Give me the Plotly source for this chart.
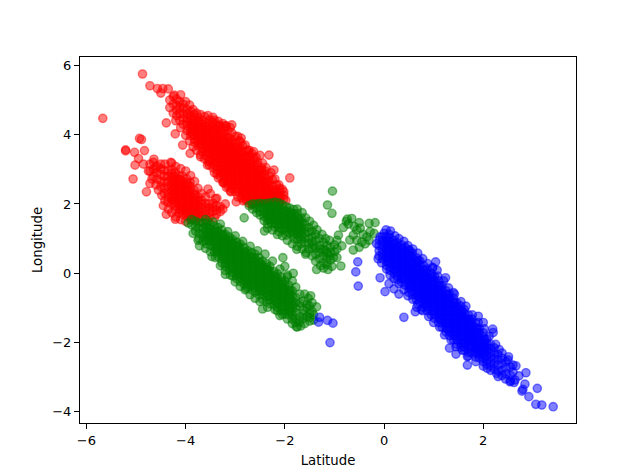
import plotly.graph_objects as go

# values, (latitude, [longitudes]) column by column
red_upper = [
 (-4.32,[5.0,4.78]),(-4.25,[5.1,4.88,4.62]),(-4.18,[5.02,4.85,4.7,4.55]),(-4.12,[4.95,4.78,4.62,4.41]),
 (-4.05,[4.88,4.75,4.6,4.47,4.3]),(-3.97,[4.72,4.6,4.48,4.37,4.25,4.12]),(-3.9,[4.68,4.55,4.43,4.3,4.2,4.08,3.97]),
 (-3.82,[4.58,4.46,4.33,4.22,4.1,3.98,3.87,3.78]),(-3.75,[4.5,4.38,4.27,4.14,4.03,3.92,3.8,3.68]),
 (-3.67,[4.42,4.3,4.18,4.07,3.95,3.83,3.72,3.6,3.5]),(-3.6,[4.35,4.22,4.1,4.0,3.88,3.76,3.63,3.52,3.4]),
 (-3.52,[4.42,4.3,4.16,4.05,3.93,3.8,3.7,3.57,3.46,3.33,3.25,3.12]),(-3.45,[4.36,4.22,4.1,3.97,3.85,3.74,3.62,3.5,3.38,3.27,3.15,3.04]),
 (-3.37,[4.28,4.14,4.03,3.9,3.78,3.67,3.55,3.43,3.32,3.2,3.08,2.98,2.86]),(-3.3,[4.26,4.12,3.98,3.85,3.73,3.6,3.48,3.37,3.25,3.13,3.02,2.9,2.78]),
 (-3.22,[4.18,4.02,3.9,3.78,3.66,3.54,3.42,3.3,3.18,3.06,2.95,2.83,2.7,2.6]),(-3.15,[4.12,3.92,3.8,3.68,3.57,3.45,3.33,3.22,3.1,2.98,2.86,2.74,2.62,2.52]),
 (-3.07,[4.05,3.85,3.73,3.62,3.5,3.38,3.26,3.14,3.02,2.9,2.78,2.66,2.54,2.44]),(-3.0,[3.95,3.75,3.63,3.52,3.4,3.28,3.16,3.04,2.92,2.8,2.68,2.56,2.44,2.35]),
 (-2.92,[3.82,3.62,3.5,3.38,3.27,3.15,3.03,2.91,2.8,2.68,2.56,2.45,2.33]),(-2.85,[3.68,3.52,3.42,3.3,3.18,3.06,2.95,2.83,2.71,2.6,2.48,2.36,2.25]),
 (-2.77,[3.52,3.38,3.27,3.16,3.04,2.92,2.8,2.69,2.57,2.45,2.34,2.22,2.12]),(-2.7,[3.4,3.28,3.15,3.03,2.92,2.8,2.68,2.56,2.45,2.33,2.2,2.08]),
 (-2.62,[3.32,3.22,3.1,2.98,2.86,2.74,2.62,2.5,2.4,2.28,2.16,2.04]),(-2.55,[3.2,3.12,2.98,2.86,2.75,2.63,2.52,2.4,2.28,2.15,2.05]),
 (-2.47,[3.05,2.98,2.85,2.73,2.62,2.5,2.38,2.27,2.15,2.05]),(-2.4,[2.95,2.86,2.74,2.62,2.5,2.38,2.27,2.15,2.05]),
 (-2.32,[2.8,2.66,2.55,2.43,2.32,2.2,2.08]),(-2.25,[2.7,2.52,2.4,2.3,2.18,2.07]),(-2.17,[2.55,2.42,2.32,2.2,2.1]),
 (-2.1,[2.45,2.33,2.22,2.12]),(-2.02,[2.35,2.25,2.15]),
]
red_lower = [
 (-4.72,[3.15,2.95]),(-4.65,[3.2,3.0,2.8]),(-4.58,[3.1,2.9,2.72]),(-4.5,[3.02,2.85,2.65,2.5]),
 (-4.43,[2.98,2.8,2.62,2.45,2.3]),(-4.36,[2.95,2.8,2.65,2.5,2.35,2.2,2.05]),
 (-4.28,[3.0,2.88,2.75,2.62,2.5,2.38,2.25,2.12,2.0]),(-4.21,[2.92,2.8,2.68,2.56,2.44,2.32,2.2,2.08,1.95,1.82]),
 (-4.13,[2.82,2.7,2.58,2.46,2.34,2.22,2.1,1.98,1.86,1.74]),(-4.06,[2.8,2.66,2.54,2.42,2.3,2.18,2.06,1.94,1.82,1.7]),
 (-3.98,[2.72,2.6,2.48,2.36,2.24,2.12,2.0,1.88,1.76,1.64]),(-3.91,[2.62,2.5,2.38,2.26,2.14,2.02,1.9,1.78,1.66,1.55]),
 (-3.83,[2.4,2.28,2.16,2.04,1.92,1.8,1.68,1.56]),(-3.75,[2.2,2.08,1.96,1.84,1.72,1.6]),
 (-3.68,[2.1,2.0,1.88,1.76,1.64]),(-3.6,[2.02,1.9,1.78,1.66]),(-3.52,[2.0,1.88,1.76,1.62]),
 (-3.45,[2.02,1.9,1.78]),(-3.38,[1.95,1.82,1.7]),(-3.3,[1.92,1.78]),
]
red_fill = [
 (-3.86,[4.4,4.27,4.14,4.01]),(-3.71,[4.35,4.21,4.09,3.97,3.84,3.72]),(-3.56,[4.25,4.13,4.0,3.88,3.75,3.63,3.5]),
 (-3.41,[4.15,4.03,3.91,3.79,3.66,3.54,3.42,3.3,3.2]),(-3.26,[4.05,3.93,3.81,3.69,3.57,3.45,3.33,3.21,3.09,2.97,2.9]),
 (-3.11,[3.9,3.78,3.66,3.54,3.42,3.3,3.18,3.06,2.94,2.82,2.7]),(-2.96,[3.65,3.53,3.41,3.29,3.17,3.05,2.93,2.81,2.69,2.57]),
 (-2.81,[3.35,3.23,3.11,2.99,2.87,2.75,2.63,2.51,2.39,2.3]),(-2.66,[3.15,3.03,2.91,2.79,2.67,2.55,2.43,2.31,2.19]),
 (-2.51,[2.95,2.83,2.71,2.59,2.47,2.35,2.23,2.12]),(-2.36,[2.65,2.53,2.41,2.29,2.17]),(-2.21,[2.35,2.23,2.12]),
 (-4.25,[2.8,2.67,2.54,2.41,2.28,2.15,2.05]),(-4.1,[2.7,2.57,2.44,2.31,2.18,2.05,1.92,1.8]),
 (-3.95,[2.55,2.42,2.29,2.16,2.03,1.9,1.77,1.7]),(-3.8,[2.25,2.12,1.99,1.86,1.73,1.65]),
]
red_edge = [
 (-4.1,[5.15,4.2]),(-4.0,[4.95,3.98]),(-3.92,[4.85,3.82]),(-3.85,[4.72,3.65]),(-3.78,[4.62,3.55]),(-3.7,[4.58,3.42]),
 (-3.62,[4.52,3.3]),(-3.55,[4.55,3.22]),(-3.42,[4.42,2.9]),(-3.34,[4.38,2.75]),(-3.25,[4.32,2.62]),(-3.18,[4.25,2.48]),
 (-3.1,[4.2,2.38]),(-2.95,[3.95,2.2]),(-2.88,[3.9,2.18]),(-2.8,[3.7,2.12]),(-2.72,[3.55,2.02]),(-2.66,[3.45,1.98]),
 (-2.58,[3.35]),(-2.45,[3.18]),(-2.38,[3.05]),(-2.28,[2.9]),(-2.2,[2.72]),(-2.12,[2.55,2.02]),(-2.05,[2.42]),(-1.98,[2.1]),
 (-4.2,[4.4,1.62,3.08]),(-4.75,[2.95]),(-4.68,[2.72]),(-4.6,[2.55]),(-4.55,[2.4]),(-4.48,[2.25]),(-4.42,[2.1,3.15]),
 (-4.35,[1.85]),(-4.28,[1.75,3.18]),(-4.1,[1.55,3.02]),(-4.0,[1.5,2.95]),(-3.9,[2.82]),(-3.82,[2.65]),(-3.75,[2.45]),
 (-3.68,[2.3]),(-3.6,[2.2]),(-3.5,[2.3]),(-3.4,[2.15]),(-3.25,[1.85]),(-3.2,[2.0]),(-3.7,[1.5]),(-3.55,[1.52]),(-3.42,[1.6]),
]
red_loose_lat = [-4.87,-4.72,-5.67,-4.57,-4.46,-4.35,-4.23,-4.39,-4.21,-4.93,-4.89,-5.21,-5.21,-5.03,-4.83,-4.95,-5.02,-4.64,-5.06,-4.79,-4.72,-4.06,-3.91,-3.7,-3.56,-2.32,-2.22,-3.24,-3.55,-3.37,-2.98,-2.84,-3.09,-4.45,-4.39,-4.21,-3.45,-3.07,-2.89,-2.63,-1.9,-4.5,-4.6,-4.3,-4.85,-4.5,-3.2,-3.33,-2.75,-2.5]
red_loose_lon = [5.75,5.41,4.47,5.33,5.33,5.32,5.14,4.34,4.02,3.89,3.86,3.56,3.53,3.49,3.54,3.31,3.12,3.29,2.72,2.35,2.59,3.7,3.46,3.36,3.12,3.41,2.98,2.64,2.43,2.16,2.06,2.09,2.35,1.95,1.7,1.56,4.5,4.28,3.78,3.51,2.75,5.2,3.05,3.2,3.15,3.15,4.25,4.25,3.55,3.4]

green_lower = [
 (-3.88,[1.55,1.4]),(-3.8,[1.5,1.36,1.22]),(-3.73,[1.45,1.3,1.15,1.0]),(-3.65,[1.45,1.3,1.18,1.05,0.92]),
 (-3.58,[1.45,1.32,1.2,1.08,0.96,0.85]),(-3.5,[1.4,1.28,1.16,1.04,0.92,0.8]),(-3.42,[1.35,1.22,1.1,0.98,0.86,0.74,0.62]),
 (-3.35,[1.32,1.2,1.08,0.96,0.84,0.72,0.6,0.48]),(-3.27,[1.25,1.13,1.01,0.9,0.78,0.66,0.54,0.42,0.3]),
 (-3.2,[1.12,1.0,0.88,0.76,0.64,0.52,0.4,0.28,0.2]),(-3.12,[1.05,0.93,0.81,0.69,0.57,0.45,0.33,0.21,0.1]),
 (-3.05,[0.98,0.86,0.74,0.62,0.5,0.38,0.26,0.14,0.02,-0.08]),(-2.97,[0.9,0.78,0.66,0.54,0.42,0.3,0.18,0.06,-0.06,-0.15]),
 (-2.9,[0.84,0.72,0.6,0.48,0.36,0.24,0.12,0.0,-0.12,-0.24]),(-2.82,[0.74,0.62,0.5,0.38,0.26,0.14,0.02,-0.1,-0.22,-0.32]),
 (-2.75,[0.65,0.53,0.41,0.29,0.17,0.05,-0.07,-0.19,-0.31,-0.4]),(-2.67,[0.6,0.48,0.36,0.24,0.12,0.0,-0.12,-0.24,-0.36,-0.48]),
 (-2.6,[0.55,0.43,0.31,0.19,0.07,-0.05,-0.17,-0.29,-0.41,-0.55]),(-2.52,[0.45,0.33,0.21,0.09,-0.03,-0.15,-0.27,-0.39,-0.51,-0.63]),
 (-2.45,[0.35,0.23,0.11,-0.01,-0.13,-0.25,-0.37,-0.49,-0.61,-0.75]),(-2.37,[0.28,0.16,0.04,-0.08,-0.2,-0.32,-0.44,-0.56,-0.68,-0.82]),
 (-2.3,[0.2,0.08,-0.04,-0.16,-0.28,-0.4,-0.52,-0.64,-0.76,-0.88]),(-2.22,[0.05,-0.07,-0.19,-0.31,-0.43,-0.55,-0.67,-0.79,-0.91]),
 (-2.15,[-0.02,-0.14,-0.26,-0.38,-0.5,-0.62,-0.74,-0.86,-0.98,-1.08]),(-2.07,[-0.12,-0.24,-0.36,-0.48,-0.6,-0.72,-0.84,-0.96,-1.08]),
 (-2.0,[-0.22,-0.34,-0.46,-0.58,-0.7,-0.82,-0.94,-1.06,-1.18]),(-1.92,[-0.35,-0.47,-0.59,-0.71,-0.83,-0.95,-1.07,-1.2]),
 (-1.85,[-0.5,-0.65,-0.8,-0.92,-1.05,-1.2,-1.32]),(-1.78,[-0.7,-0.85,-1.0,-1.15,-1.3,-1.42]),(-1.7,[-0.85,-0.95,-1.25,-1.4]),
 (-1.62,[-1.05,-1.18,-1.3]),(-1.5,[-1.15,-1.28,-1.38]),(-1.42,[-1.2,-1.35]),
]
green_upper = [
 (-2.72,[1.95]),(-2.65,[2.0,1.85]),(-2.57,[2.0,1.88,1.75]),(-2.5,[2.02,1.9,1.78,1.68]),(-2.42,[2.0,1.88,1.76,1.64,1.52]),
 (-2.35,[2.02,1.9,1.78,1.66,1.54,1.42]),(-2.27,[2.03,1.91,1.79,1.67,1.55,1.43]),(-2.2,[2.05,1.93,1.81,1.69,1.57,1.45,1.33]),
 (-2.12,[2.03,1.91,1.79,1.67,1.55,1.43,1.31,1.2]),(-2.05,[1.98,1.86,1.74,1.62,1.5,1.38,1.26]),(-1.97,[1.92,1.8,1.68,1.56,1.44,1.32,1.2,1.1]),
 (-1.9,[1.88,1.76,1.64,1.52,1.4,1.28,1.16]),(-1.82,[1.84,1.72,1.6,1.48,1.36,1.24,1.12,1.0]),(-1.75,[1.72,1.6,1.48,1.36,1.24,1.12,0.98]),
 (-1.67,[1.6,1.48,1.36,1.24,1.12,0.98,0.85]),(-1.6,[1.42,1.28,1.15,1.02,0.88]),(-1.52,[1.32,1.18,1.0,0.85,0.7]),
 (-1.45,[1.22,1.05,0.9,0.75]),(-1.38,[1.12,0.95,0.72,0.55]),(-1.3,[1.0,0.8,0.6,0.42]),(-1.22,[0.88,0.68,0.5,0.3]),
 (-1.15,[0.8,0.58,0.42]),(-1.08,[0.75,0.6,0.38]),(-1.0,[0.82,0.62]),
]
green_fill = [
 (-3.54,[1.3,1.17,1.05,0.95]),(-3.39,[1.2,1.07,0.95,0.82,0.7]),(-3.24,[1.1,0.97,0.85,0.72,0.6,0.47]),
 (-3.09,[0.95,0.83,0.71,0.59,0.47,0.35,0.2]),(-2.94,[0.8,0.68,0.56,0.44,0.32,0.2,0.08,0.0]),(-2.79,[0.6,0.48,0.36,0.24,0.12,0.0,-0.12,-0.2]),
 (-2.64,[0.45,0.33,0.21,0.09,-0.03,-0.15,-0.27,-0.35]),(-2.49,[0.3,0.18,0.06,-0.06,-0.18,-0.3,-0.42,-0.5]),
 (-2.34,[0.1,-0.02,-0.14,-0.26,-0.38,-0.5,-0.65]),(-2.19,[-0.1,-0.22,-0.34,-0.46,-0.58,-0.7,-0.8]),
 (-2.04,[-0.3,-0.42,-0.54,-0.66,-0.78,-0.95]),(-1.89,[-0.5,-0.62,-0.74,-0.86,-1.0,-1.1]),
 (-2.31,[1.9,1.78,1.66,1.55]),(-2.16,[1.9,1.78,1.66,1.54,1.4]),(-2.01,[1.8,1.68,1.56,1.44,1.3]),
 (-1.86,[1.7,1.58,1.46,1.34,1.2]),(-1.71,[1.55,1.43,1.31,1.19,1.05]),
]
green_edge = [
 (-3.95,[1.45]),(-3.85,[1.15]),(-3.75,[0.95]),(-3.6,[1.55,0.72]),(-3.5,[0.62]),(-3.45,[1.48]),(-3.4,[0.45]),(-3.3,[1.42,0.22]),
 (-3.2,[0.08]),(-3.15,[1.2]),(-3.1,[-0.05]),(-3.0,[1.08,-0.25]),(-2.9,[-0.38]),(-2.85,[0.92]),(-2.8,[-0.48]),(-2.7,[0.78,-0.62]),
 (-2.6,[-0.72]),(-2.55,[0.65]),(-2.5,[-0.82]),(-2.4,[0.55]),(-2.35,[-0.98,1.3]),(-2.25,[0.35,1.25]),(-2.2,[-1.05]),(-2.1,[0.12,-1.22]),
 (-1.95,[-0.1,-1.32]),(-1.85,[-0.22,-1.45]),(-1.78,[-0.4]),(-1.75,[-1.55,1.85,0.78]),(-1.7,[-0.6]),(-1.62,[-0.8]),(-1.6,[-1.45]),
 (-1.55,[-1.0,-1.25]),(-1.65,[1.75,0.7]),(-1.58,[1.6,0.55]),(-1.5,[1.5]),(-1.42,[1.38,0.8]),(-1.35,[1.25]),(-1.25,[1.12]),
 (-1.18,[1.0,0.65]),(-1.1,[0.95,0.5]),(-2.15,[1.12]),(-2.05,[1.08]),(-1.95,[0.95]),(-1.85,[0.85]),(-1.45,[0.5]),(-1.38,[0.35]),
 (-1.28,[0.22,0.7]),(-1.22,[0.15]),(-1.15,[0.25]),(-1.05,[0.2]),(-0.95,[0.45,0.7,0.95]),(-1.02,[0.45]),
]
green_loose_lat = [-1.04,-1.14,-1.05,-2.82,-2.41,-3.72,-3.47,-3.2,-2.78,-2.45,-1.83,-2.04,-1.36,-1.13,-0.87,-1.57,-1.76,-1.77,-1.68,-1.36,-1.53,-2.05,-0.92,-0.85,-0.74,-0.65,-0.5,-0.3,-0.18,-0.82,-0.69,-0.62,-0.76,-0.72,-0.6,-0.55,-0.48,-0.42,-0.35,-0.28,-0.2,-0.55,-0.45,-0.38,-0.3,-0.62,-0.5,-2.35,-2.0,-1.95,-1.6,-1.45,-1.5,-1.45,-1.48,-1.55]
green_loose_lon = [2.37,1.97,1.73,1.6,1.22,0.79,0.48,-0.03,-0.44,-1.03,0.0,0.45,0.11,0.11,0.21,0.6,0.69,-1.54,-1.52,-0.97,-0.72,-1.19,1.1,0.79,1.56,1.58,1.46,1.44,1.46,1.32,0.96,0.67,1.5,1.42,1.35,1.25,1.3,1.12,1.05,1.2,1.15,0.95,0.9,0.85,0.95,1.1,0.75,0.1,0.2,-0.05,-0.6,-0.85,-0.95,-1.1,-0.65,-0.9]

blue_core = [
 (-0.1,[0.95,0.8,0.65,0.5]),(-0.03,[1.05,0.92,0.8,0.68,0.55,0.42]),(0.05,[1.05,0.93,0.81,0.69,0.57,0.45,0.33,0.22]),
 (0.12,[1.02,0.9,0.78,0.66,0.54,0.42,0.3,0.18,0.08]),(0.2,[0.95,0.83,0.71,0.59,0.47,0.35,0.23,0.11,0.0]),
 (0.27,[0.88,0.76,0.64,0.52,0.4,0.28,0.16,0.04,-0.08,-0.18]),(0.35,[0.82,0.7,0.58,0.46,0.34,0.22,0.1,-0.02,-0.14,-0.26]),
 (0.42,[0.76,0.64,0.52,0.4,0.28,0.16,0.04,-0.08,-0.2,-0.34]),(0.5,[0.68,0.56,0.44,0.32,0.2,0.08,-0.04,-0.16,-0.28,-0.42,-0.55]),
 (0.57,[0.58,0.46,0.34,0.22,0.1,-0.02,-0.14,-0.26,-0.38,-0.5,-0.62]),(0.65,[0.45,0.33,0.21,0.09,-0.03,-0.15,-0.27,-0.39,-0.51,-0.63,-0.75]),
 (0.72,[0.36,0.24,0.12,0.0,-0.12,-0.24,-0.36,-0.48,-0.6,-0.72,-0.84]),(0.8,[0.22,0.1,-0.02,-0.14,-0.26,-0.38,-0.5,-0.62,-0.74,-0.86,-0.98]),
 (0.87,[0.12,0.0,-0.12,-0.24,-0.36,-0.48,-0.6,-0.72,-0.84,-0.96,-1.08]),(0.95,[0.0,-0.12,-0.24,-0.36,-0.48,-0.6,-0.72,-0.84,-0.96,-1.08,-1.2]),
 (1.02,[-0.1,-0.22,-0.34,-0.46,-0.58,-0.7,-0.82,-0.94,-1.06,-1.18,-1.3]),(1.1,[-0.22,-0.34,-0.46,-0.58,-0.7,-0.82,-0.94,-1.06,-1.18,-1.3,-1.42]),
 (1.17,[-0.36,-0.48,-0.6,-0.72,-0.84,-0.96,-1.08,-1.2,-1.32,-1.44,-1.56]),(1.25,[-0.5,-0.62,-0.74,-0.86,-0.98,-1.1,-1.22,-1.34,-1.46,-1.58,-1.7]),
 (1.32,[-0.6,-0.72,-0.84,-0.96,-1.08,-1.2,-1.32,-1.44,-1.56,-1.68,-1.8]),(1.4,[-0.72,-0.84,-0.96,-1.08,-1.2,-1.32,-1.44,-1.56,-1.68,-1.8,-1.92]),
 (1.47,[-0.85,-0.97,-1.09,-1.21,-1.33,-1.45,-1.57,-1.69,-1.81,-1.93,-2.05]),(1.55,[-0.95,-1.07,-1.19,-1.31,-1.43,-1.55,-1.67,-1.79,-1.91,-2.03,-2.13]),
 (1.62,[-1.05,-1.17,-1.29,-1.41,-1.53,-1.65,-1.77,-1.89,-2.01,-2.13,-2.22]),(1.7,[-1.2,-1.32,-1.44,-1.56,-1.68,-1.8,-1.92,-2.04,-2.16,-2.28]),
 (1.77,[-1.32,-1.44,-1.56,-1.68,-1.8,-1.92,-2.04,-2.16,-2.3]),(1.85,[-1.45,-1.57,-1.69,-1.81,-1.93,-2.05,-2.17,-2.29,-2.42]),
 (1.92,[-1.6,-1.72,-1.84,-1.96,-2.08,-2.2,-2.32,-2.44]),(2.0,[-1.72,-1.84,-1.96,-2.08,-2.2,-2.32,-2.44,-2.55]),
 (2.07,[-1.9,-2.02,-2.14,-2.26,-2.38,-2.5,-2.62]),(2.15,[-2.05,-2.17,-2.29,-2.41,-2.55,-2.68]),(2.22,[-2.15,-2.3,-2.45,-2.6,-2.76]),
 (2.3,[-2.35,-2.5,-2.65,-2.82]),(2.38,[-2.45,-2.6,-2.8,-2.95]),(2.46,[-2.55,-2.72,-2.9]),(2.55,[-2.7,-2.95,-3.1]),
]
blue_fill = [
 (0.08,[0.95,0.83,0.71,0.59,0.47,0.35]),(0.23,[0.85,0.73,0.61,0.49,0.37,0.25,0.1]),(0.38,[0.7,0.58,0.46,0.34,0.22,0.1,-0.02,-0.15]),
 (0.53,[0.5,0.38,0.26,0.14,0.02,-0.1,-0.22,-0.34,-0.4]),(0.68,[0.3,0.18,0.06,-0.06,-0.18,-0.3,-0.42,-0.54,-0.65]),
 (0.83,[0.05,-0.07,-0.19,-0.31,-0.43,-0.55,-0.67,-0.79,-0.9]),(0.98,[-0.1,-0.22,-0.34,-0.46,-0.58,-0.7,-0.82,-0.94,-1.1]),
 (1.13,[-0.35,-0.47,-0.59,-0.71,-0.83,-0.95,-1.07,-1.19,-1.3]),(1.28,[-0.6,-0.72,-0.84,-0.96,-1.08,-1.2,-1.32,-1.44,-1.6]),
 (1.43,[-0.85,-0.97,-1.09,-1.21,-1.33,-1.45,-1.57,-1.69,-1.8]),(1.58,[-1.1,-1.22,-1.34,-1.46,-1.58,-1.7,-1.82,-2.0]),
 (1.73,[-1.35,-1.47,-1.59,-1.71,-1.83,-1.95,-2.1]),(1.88,[-1.6,-1.72,-1.84,-1.96,-2.08,-2.2,-2.3]),(2.03,[-1.9,-2.02,-2.14,-2.26,-2.4]),
]
blue_edge = [
 (-0.15,[0.85]),(-0.12,[0.42]),(-0.08,[1.05]),(-0.05,[0.3]),(0.0,[1.15]),(0.05,[0.12]),(0.1,[1.12]),(0.12,[-0.05]),(0.2,[-0.15]),
 (0.22,[1.08]),(0.3,[1.0,-0.3]),(0.4,[0.92,-0.48]),(0.48,[0.8,-0.65]),(0.58,[0.7,-0.75]),(0.68,[0.58,-0.88]),(0.78,[0.42,-1.08]),
 (0.88,[0.28]),(0.9,[-1.25]),(0.98,[0.15]),(1.0,[-1.42]),(1.08,[-0.08]),(1.12,[-1.55]),(1.2,[-0.22]),(1.22,[-1.78]),(1.3,[-0.42]),
 (1.35,[-1.92]),(1.42,[-0.6]),(1.45,[-2.12]),(1.55,[-0.82]),(1.58,[-2.22]),(1.65,[-0.95]),(1.68,[-2.4]),(1.78,[-1.2]),(1.85,[-2.55]),
 (1.9,[-1.42]),(2.0,[-2.68]),(2.02,[-1.6]),(2.12,[-1.82]),(2.15,[-2.8]),(2.25,[-2.05]),(2.3,[-2.98]),(2.38,[-2.3]),(2.45,[-3.05]),
 (2.5,[-2.5]),(2.6,[-2.65]),(2.62,[-3.15]),
]
blue_loose_lat = [-0.53,-0.57,-0.52,-0.08,-1.09,-1.03,-1.14,-1.32,-1.3,3.41,3.18,3.06,2.92,3.09,2.86,2.84,2.78,2.66,1.68,1.7,1.45,1.32,0.4,0.63,0.02,0.13,0.04,0.52,0.69,1.04,0.98,1.07,1.24,1.4,1.9,2.0,2.19,2.2,2.32,2.51,2.08,2.27,2.54,2.64,2.72,2.8,0.2,0.1,0.3,0.66,0.75,2.6]
blue_loose_lon = [0.33,0.04,-0.37,-0.13,-2.0,-1.44,-1.36,-1.41,-1.27,-3.85,-3.8,-3.78,-3.56,-3.32,-2.87,-3.2,-3.4,-2.67,-2.65,-2.39,-2.33,-2.16,-1.27,-1.11,-0.53,1.22,1.25,0.65,0.38,0.33,0.17,0.09,-0.13,-0.56,-1.24,-1.42,-1.61,-1.71,-2.2,-2.41,-2.74,-2.89,-3.13,-3.08,-2.96,-3.35,-0.45,-0.3,-0.6,-0.98,-1.05,-2.85]

lon_ticks = [-4, -2, 0, 2, 4, 6]
lat_ticks = [-6, -4, -2, 0, 2]


def spread(cols):
    lat, lon = [], []
    for a, vals in cols:
        for v in vals:
            lat.append(a)
            lon.append(v)
    return lat, lon


def add(fig, cols, loose_lat, loose_lon, color):
    lat, lon = spread(cols)
    fig.add_trace(go.Scatter(x=lat + loose_lat, y=lon + loose_lon, mode="markers",
                             marker=dict(color=color, size=8.3,
                                         line=dict(color=color, width=1.4))))


fig = go.Figure()
add(fig, red_upper + red_lower + red_fill + red_edge, red_loose_lat, red_loose_lon, "rgba(255,0,0,0.5)")
add(fig, green_lower + green_upper + green_fill + green_edge, green_loose_lat, green_loose_lon, "rgba(0,128,0,0.5)")
add(fig, blue_core + blue_fill + blue_edge, blue_loose_lat, blue_loose_lon, "rgba(0,0,255,0.5)")

axis = dict(showgrid=False, zeroline=False, showline=True, mirror=True, linecolor="black", linewidth=1,
            ticks="outside", ticklen=5, tickwidth=1, tickcolor="black", automargin=False)
fig.update_xaxes(axis, range=[-6.13, 3.87], tickvals=lat_ticks, title=dict(text="Latitude", standoff=9, font=dict(size=13.3)))
fig.update_yaxes(axis, range=[-4.32, 6.24], tickvals=lon_ticks, title=dict(text="Longitude", standoff=6, font=dict(size=13.3)))
fig.update_layout(width=632, height=468, showlegend=False, plot_bgcolor="white", paper_bgcolor="white",
                  margin=dict(l=72, r=64, t=49, b=53),
                  font=dict(family="DejaVu Sans", size=13, color="black"))
fig.write_html("out.html")
